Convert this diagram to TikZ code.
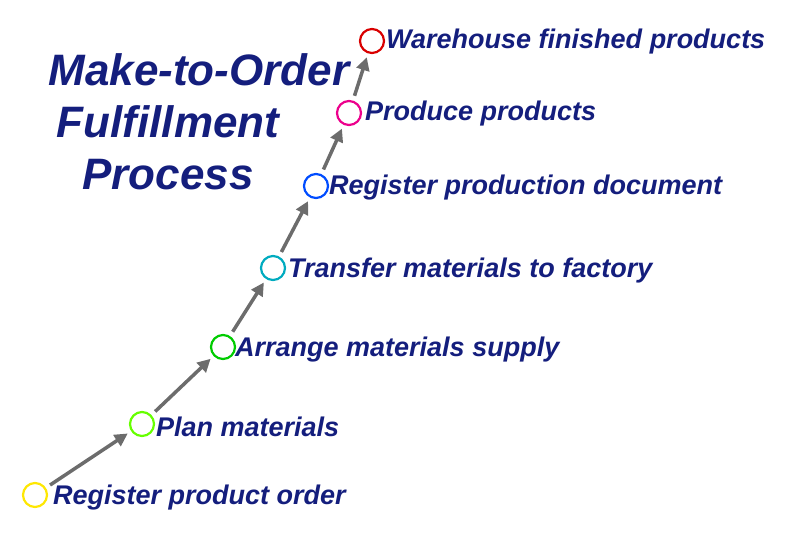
\documentclass[tikz,border=0pt]{standalone}
\usepackage{fontspec}
\setmainfont{Liberation Sans}
\usetikzlibrary{arrows.meta}
\definecolor{navy}{RGB}{20,30,125}
\begin{document}
\begin{tikzpicture}[x=1pt,y=-1pt,
  ring/.style={circle,draw=#1,line width=2.2pt,minimum size=24pt,inner sep=0pt},
  lab/.style={anchor=west,text=navy,font=\fontsize{27}{30}\selectfont\bfseries\itshape,inner sep=1pt},
  ttl/.style={text=navy,font=\fontsize{44}{53}\selectfont\bfseries\itshape,inner sep=0pt},
  arr/.style={-{Triangle[length=13pt,width=13pt]},draw=gray!85!black,line width=3.5pt,shorten <=5pt,shorten >=4pt}]
\useasboundingbox (0,0) rectangle (800,542);
\node[ring={yellow!90!orange}] (c1) at (35,495) {};
\node[ring={green!60!yellow}] (c2) at (142,424) {};
\node[ring={green!80!black}] (c3) at (223,347) {};
\node[ring={cyan!70!green}] (c4) at (273,268) {};
\node[ring={blue!70!cyan}] (c5) at (316,186) {};
\node[ring=magenta] (c6) at (349,113) {};
\node[ring={red!85!black}] (c7) at (372,41) {};
\node[lab] (t1) at (52,498) {Register product order};
\node[lab] (t2) at (155,427) {Plan materials};
\node[lab] (t3) at (234,350) {Arrange materials supply};
\node[lab] (t4) at (287,271) {Transfer materials to factory};
\node[lab] (t5) at (328,188) {Register production document};
\node[lab] (t6) at (364,114) {Produce products};
\node[lab] (t7) at (385,42) {Warehouse finished products};
\draw[arr] (c1) -- (c2);
\draw[arr] (c2) -- (c3);
\draw[arr] (c3) -- (c4);
\draw[arr] (c4) -- (c5);
\draw[arr] (c5) -- (c6);
\draw[arr] (c6) -- (c7);
\node[ttl] (title1) at (199,70) {Make-to-Order};
\node[ttl] (title2) at (168,122) {Fulfillment};
\node[ttl] (title3) at (168,175) {Process};
\end{tikzpicture}
\end{document}
